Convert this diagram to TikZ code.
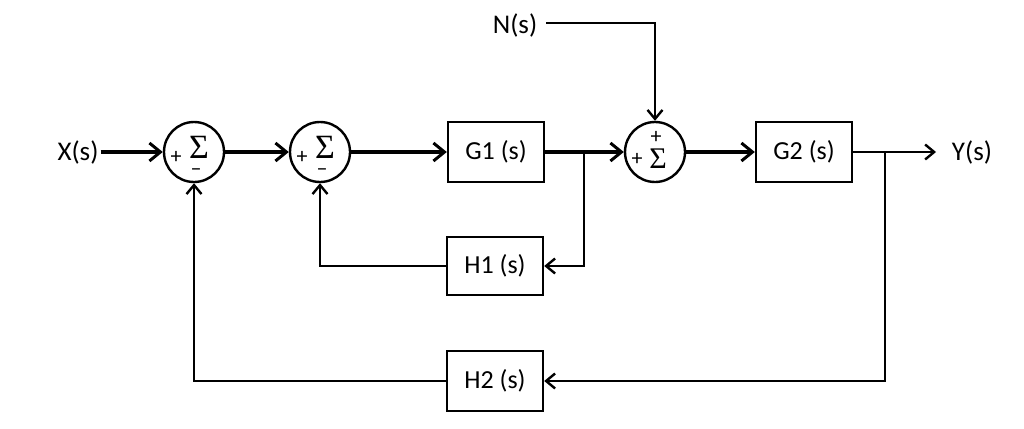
\documentclass[tikz,border=0pt]{standalone}
\usepackage{fontspec}
\setmainfont{Carlito}
\newfontfamily\sigfont{Liberation Serif}
\usetikzlibrary{arrows.meta}
\begin{document}
\begin{tikzpicture}[x=1pt,y=-1pt,
  blk/.style={draw,line width=2.4pt,minimum width=96pt,minimum height=60pt,inner sep=0pt,font=\fontsize{26}{30}\selectfont},
  sm/.style={draw,circle,line width=2.4pt,minimum size=60pt,inner sep=0pt},
  lbl/.style={font=\fontsize{27}{30}\selectfont,inner sep=2pt},
  fw/.style={line width=3.6pt,-{Straight Barb[length=11pt,width=18pt,line width=3pt]}},
  fb/.style={line width=2.6pt,-{Straight Barb[length=9pt,width=15pt,line width=2.4pt]}},
  sig/.style={font=\sigfont\fontsize{34}{36}\selectfont,inner sep=0pt},
  sg/.style={font=\fontsize{22}{24}\selectfont,inner sep=0pt}]
\useasboundingbox (0,0) rectangle (1024,428);
\node[lbl] (X) at (78,152) {X(s)};
\node[sm] (s1) at (194,152) {};
\node[sm] (s2) at (320,152) {};
\node[blk] (G1) at (496,152) {G1 (s)};
\node[sm] (s3) at (655,152) {};
\node[blk] (G2) at (804,152) {G2 (s)};
\node[lbl] (Y) at (972,152) {Y(s)};
\node[lbl] (N) at (515,25) {N(s)};
\node[blk,minimum height=58pt] (H1) at (495,266) {H1 (s)};
\node[blk,minimum height=60pt] (H2) at (495,381) {H2 (s)};
\coordinate (b1) at (584,152);
\coordinate (b2) at (885,152);
\coordinate (n1) at (655,23);
\coordinate (ne) at (546,23);
\coordinate (ye) at (936,152);
% sigma contents
\foreach \s in {s1,s2}{
  \node[sig] at ([shift={(5,-5)}]\s) {Σ};
  \node[sg] at ([shift={(-18,5)}]\s) {+};
  \node[sg] at ([shift={(2,20)}]\s) {–};
}
\node[sig,font=\sigfont\fontsize{30}{32}\selectfont] at ([shift={(3,7)}]s3) {Σ};
\node[sg] at ([shift={(-18,7)}]s3) {+};
\node[sg] at ([shift={(1,-15)}]s3) {+};
% forward
\draw[fw] (X) -- (s1);
\draw[fw] (s1) -- (s2);
\draw[fw] (s2) -- (G1);
\draw[fw] (G1) -- (s3);
\draw[fw] (s3) -- (G2);
\draw[fb] (G2) -- (ye);
\draw[fb] (ne) -- (n1) -- (s3);
% feedback
\draw[fb] (b1) |- (H1);
\draw[fb] (H1) -| (s2);
\draw[fb] (b2) |- (H2);
\draw[fb] (H2) -| (s1);
\end{tikzpicture}
\end{document}
